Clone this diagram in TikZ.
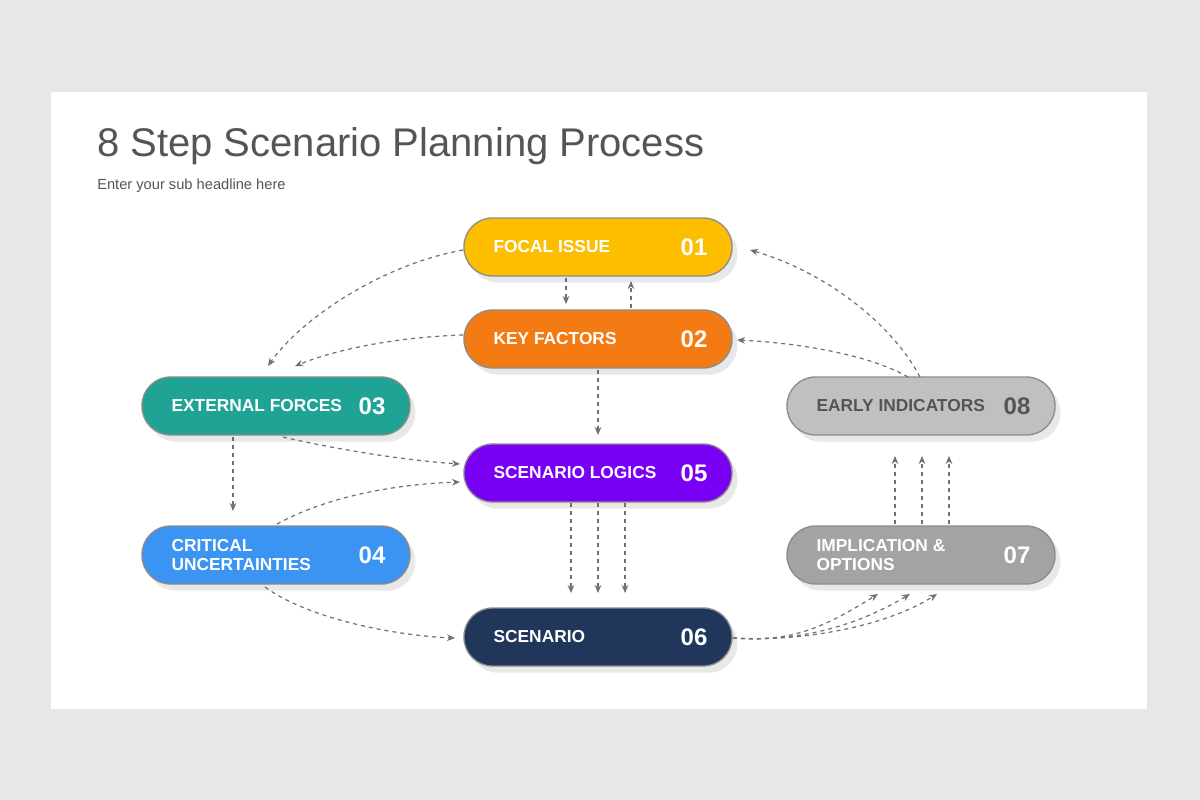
\documentclass[tikz,border=0pt]{standalone}
\usepackage{fontspec}
\setmainfont{Liberation Sans}
\usetikzlibrary{shadows,arrows.meta}
\definecolor{bg}{HTML}{E8E6E8}
\definecolor{ttl}{HTML}{555555}
\definecolor{cA}{HTML}{FDBE00}
\definecolor{cB}{HTML}{F47B13}
\definecolor{cC}{HTML}{1FA394}
\definecolor{cD}{HTML}{3B94F2}
\definecolor{cE}{HTML}{7A00F5}
\definecolor{cF}{HTML}{21365B}
\definecolor{cG}{HTML}{A3A3A3}
\definecolor{cH}{HTML}{C0C0C0}
\definecolor{arr}{HTML}{707070}
\tikzset{
 pill/.style={rounded corners=28.5*0.75pt, minimum width=268*0.75pt, minimum height=58*0.75pt, fill=#1, draw=black!45, line width=1pt,
   drop shadow={opacity=0.18, shadow xshift=4pt, shadow yshift=-5pt}},
 lbl/.style={anchor=west, text=white, font=\bfseries\fontsize{13}{14}\selectfont, align=left, inner sep=0pt},
 num/.style={anchor=east, text=white, font=\bfseries\fontsize{18}{20}\selectfont, inner sep=0pt},
 con/.style={draw=arr, dashed, line width=0.9pt, -{Stealth[length=6pt,width=5pt]}}
}
\begin{document}
\begin{tikzpicture}[x=0.75pt,y=-0.75pt]
\fill[bg] (0,0) rectangle (1200,800);
\fill[white] (51,92) rectangle (1147,709);
\node[anchor=west, text=ttl, font=\fontsize{30}{34}\selectfont, inner sep=0pt] (title) at (97,146) {8 Step Scenario Planning Process};
\node[anchor=west, text=ttl, font=\fontsize{11}{13}\selectfont, inner sep=0pt] (sub) at (97,186) {Enter your sub headline here};
% pills
\foreach \n/\x/\y/\c in {p1/598/247/cA, p2/598/339/cB, p3/276/406/cC, p4/276/555/cD, p5/598/473/cE, p6/598/637/cF, p7/921/555/cG, p8/921/406/cH}
  \node[pill=\c] (\n) at (\x,\y) {};
\node[lbl] (l1) at ([xshift=30*0.75pt]p1.west) {FOCAL ISSUE};
\node[num] (n1) at ([xshift=-25*0.75pt]p1.east) {01};
\node[lbl] (l2) at ([xshift=30*0.75pt]p2.west) {KEY FACTORS};
\node[num] (n2) at ([xshift=-25*0.75pt]p2.east) {02};
\node[lbl] (l3) at ([xshift=30*0.75pt]p3.west) {EXTERNAL FORCES};
\node[num] (n3) at ([xshift=-25*0.75pt]p3.east) {03};
\node[lbl] (l4) at ([xshift=30*0.75pt]p4.west) {CRITICAL\\UNCERTAINTIES};
\node[num] (n4) at ([xshift=-25*0.75pt]p4.east) {04};
\node[lbl] (l5) at ([xshift=30*0.75pt]p5.west) {SCENARIO LOGICS};
\node[num] (n5) at ([xshift=-25*0.75pt]p5.east) {05};
\node[lbl] (l6) at ([xshift=30*0.75pt]p6.west) {SCENARIO};
\node[num] (n6) at ([xshift=-25*0.75pt]p6.east) {06};
\node[lbl] (l7) at ([xshift=30*0.75pt]p7.west) {IMPLICATION \&\\OPTIONS};
\node[num] (n7) at ([xshift=-25*0.75pt]p7.east) {07};
\node[lbl, text=ttl] (l8) at ([xshift=30*0.75pt]p8.west) {EARLY INDICATORS};
\node[num, text=ttl] (n8) at ([xshift=-25*0.75pt]p8.east) {08};
% connectors
\coordinate (a1) at (566,278); \coordinate (b1) at (566,304);
\draw[con] (a1) -- (b1);
\coordinate (a2) at (631,308); \coordinate (b2) at (631,281);
\draw[con] (a2) -- (b2);
\coordinate (c1) at (463,250); \coordinate (d1) at (268,366);
\draw[con] (c1) .. controls (380,265) and (300,320) .. (d1);
\coordinate (c2) at (463,335); \coordinate (d2) at (295,366);
\draw[con] (c2) .. controls (400,337) and (340,348) .. (d2);
\coordinate (e1) at (598,370); \coordinate (f1) at (598,435);
\draw[con] (e1) -- (f1);
\coordinate (e2) at (233,437); \coordinate (f2) at (233,511);
\draw[con] (e2) -- (f2);
\coordinate (g1) at (283,437); \coordinate (h1) at (460,464);
\draw[con] (g1) .. controls (330,448) and (400,460) .. (h1);
\coordinate (g2) at (277,524); \coordinate (h2) at (460,482);
\draw[con] (g2) .. controls (330,495) and (400,484) .. (h2);
\coordinate (g3) at (265,587); \coordinate (h3) at (455,638);
\draw[con] (g3) .. controls (310,620) and (400,636) .. (h3);
\foreach \x in {571,598,625} { \coordinate (s\x) at (\x,503); \coordinate (t\x) at (\x,593); \draw[con] (s\x) -- (t\x); }
\coordinate (o6) at (733,638);
\foreach \x/\cx in {878/820,910/850,937/880} { \coordinate (u\x) at (\x,594); \draw[con] (o6) .. controls (790,642) and (\cx,630) .. (u\x); }
\foreach \x in {895,922,949} { \coordinate (v\x) at (\x,524); \coordinate (w\x) at (\x,456); \draw[con] (v\x) -- (w\x); }
\coordinate (i1) at (908,377); \coordinate (j1) at (737,340);
\draw[con] (i1) .. controls (870,355) and (800,343) .. (j1);
\coordinate (i2) at (920,377); \coordinate (j2) at (750,250);
\draw[con] (i2) .. controls (890,320) and (820,270) .. (j2);
\end{tikzpicture}
\end{document}
